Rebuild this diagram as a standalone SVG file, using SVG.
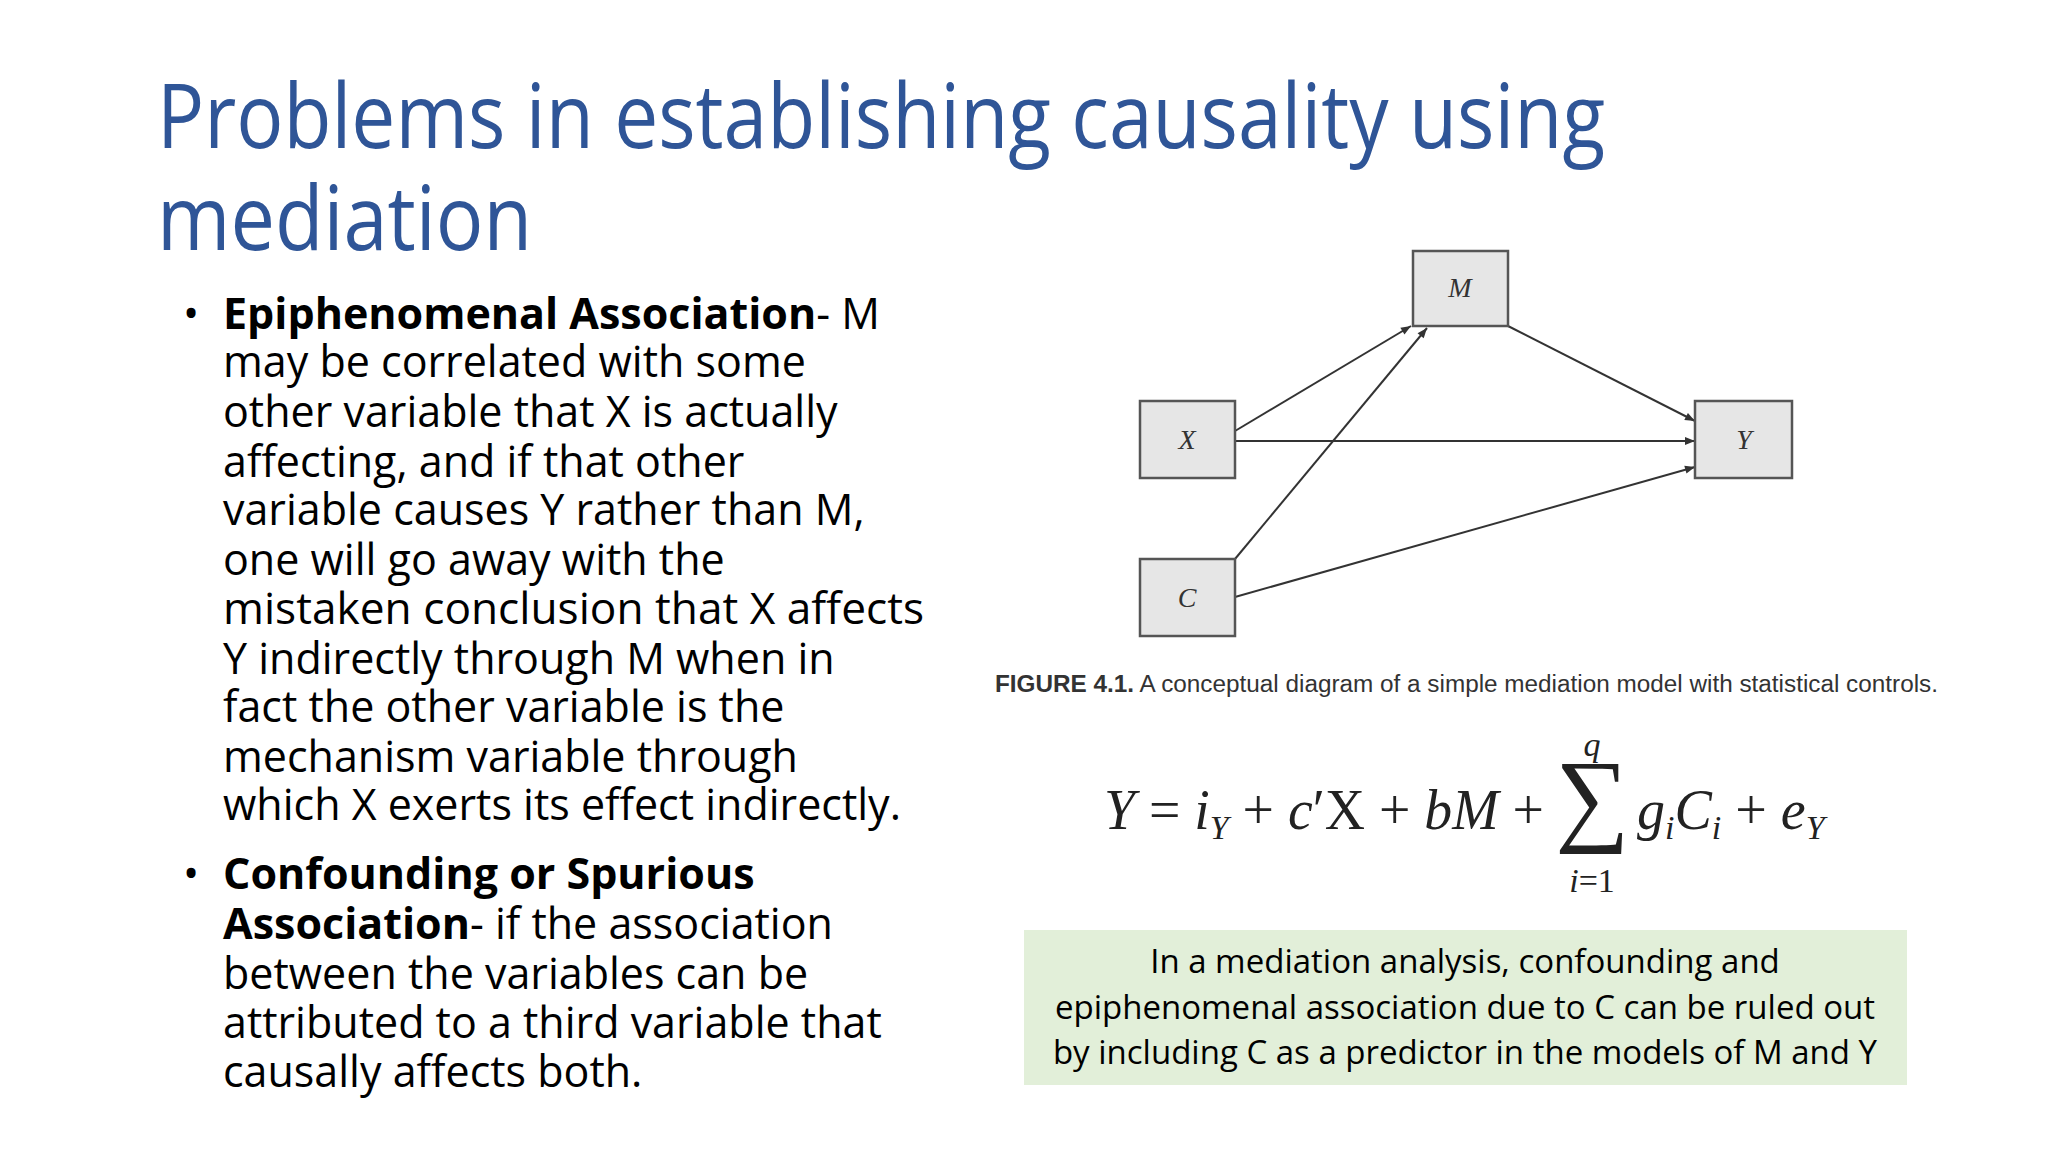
<svg xmlns="http://www.w3.org/2000/svg" width="2048" height="1152" viewBox="0 0 2048 1152">
<style>
.title{font-family:"Open Sans","Liberation Sans",sans-serif;font-size:90px;fill:#2F5597}
.body{font-family:"Open Sans","Liberation Sans",sans-serif;font-size:43px;fill:#000}
.b{font-weight:bold}
.box{fill:#e6e6e6;stroke:#555;stroke-width:2.5}
.lbl{font-family:"Liberation Serif",serif;font-style:italic;font-size:28px;fill:#333;text-anchor:middle}
.cap{font-family:"Liberation Sans",sans-serif;font-size:23px;fill:#333}
.eq{font-family:"Liberation Serif",serif;font-size:56px;fill:#222}
.note{font-family:"Open Sans","Liberation Sans",sans-serif;font-size:33px;fill:#000;text-anchor:middle}
.conn line{stroke:#333;stroke-width:2;marker-end:url(#ah)}
</style>
<defs>
<marker id="ah" viewBox="0 0 10 10" refX="10" refY="5" markerWidth="13" markerHeight="10" orient="auto" markerUnits="userSpaceOnUse"><path d="M0,1 L10,5 L0,9 z" fill="#333"/></marker>
</defs>
<rect width="2048" height="1152" fill="#fff"/>
<g id="title">
<text class="title" x="157" y="148" textLength="1448" lengthAdjust="spacingAndGlyphs">Problems in establishing causality using</text>
<text class="title" x="157" y="250" textLength="375" lengthAdjust="spacingAndGlyphs">mediation</text>
</g>
<g id="bullets" class="body">
<text x="183" y="329">•</text>
<text x="223" y="329"><tspan class="b">Epiphenomenal Association</tspan>- M</text>
<text x="223" y="377">may be correlated with some</text>
<text x="223" y="427">other variable that X is actually</text>
<text x="223" y="477">affecting, and if that other</text>
<text x="223" y="525">variable causes Y rather than M,</text>
<text x="223" y="575">one will go away with the</text>
<text x="223" y="624" textLength="701" lengthAdjust="spacingAndGlyphs">mistaken conclusion that X affects</text>
<text x="223" y="674">Y indirectly through M when in</text>
<text x="223" y="722">fact the other variable is the</text>
<text x="223" y="772">mechanism variable through</text>
<text x="223" y="820">which X exerts its effect indirectly.</text>
<text x="183" y="889">•</text>
<text x="223" y="889" class="b">Confounding or Spurious</text>
<text x="223" y="939"><tspan class="b">Association</tspan>- if the association</text>
<text x="223" y="989">between the variables can be</text>
<text x="223" y="1038">attributed to a third variable that</text>
<text x="223" y="1087">causally affects both.</text>
</g>
<g id="connectors" class="conn">
<line x1="1235" y1="431" x2="1411" y2="326"/>
<line x1="1235" y1="559" x2="1427" y2="328"/>
<line x1="1508" y1="326" x2="1695" y2="421"/>
<line x1="1235" y1="441" x2="1695" y2="441"/>
<line x1="1235" y1="597" x2="1695" y2="467"/>
</g>
<g id="node-M"><rect class="box" x="1413" y="251" width="95" height="75"/><text class="lbl" x="1460" y="297">M</text></g>
<g id="node-X"><rect class="box" x="1140" y="401" width="95" height="77"/><text class="lbl" x="1187" y="449">X</text></g>
<g id="node-Y"><rect class="box" x="1695" y="401" width="97" height="77"/><text class="lbl" x="1744" y="449">Y</text></g>
<g id="node-C"><rect class="box" x="1140" y="559" width="95" height="77"/><text class="lbl" x="1187" y="607">C</text></g>
<g id="caption"><text class="cap" x="995" y="692" textLength="943" lengthAdjust="spacingAndGlyphs"><tspan font-weight="bold">FIGURE 4.1.</tspan> A conceptual diagram of a simple mediation model with statistical controls.</text></g>
<g id="equation" class="eq">
<text x="1104" y="829" textLength="440" lengthAdjust="spacingAndGlyphs"><tspan font-style="italic">Y</tspan> = <tspan font-style="italic">i</tspan><tspan font-style="italic" font-size="34" dy="10">Y</tspan><tspan dy="-10"> + </tspan><tspan font-style="italic">c</tspan>′X + <tspan font-style="italic">bM</tspan> +</text>
<text x="1592" y="832" font-size="104" text-anchor="middle">∑</text>
<text x="1592" y="756" font-size="34" font-style="italic" text-anchor="middle">q</text>
<text x="1592" y="892" font-size="34" text-anchor="middle"><tspan font-style="italic">i</tspan>=1</text>
<text x="1637" y="829"><tspan font-style="italic">g</tspan><tspan font-style="italic" font-size="34" dy="10">i</tspan><tspan dy="-10" font-style="italic">C</tspan><tspan font-style="italic" font-size="34" dy="10">i</tspan><tspan dy="-10"> + </tspan><tspan font-style="italic">e</tspan><tspan font-style="italic" font-size="34" dy="10">Y</tspan></text>
</g>
<g id="note">
<rect x="1024" y="930" width="883" height="155" fill="#e2efd9"/>
<text class="note" x="1465" y="973">In a mediation analysis, confounding and</text>
<text class="note" x="1465" y="1019">epiphenomenal association due to C can be ruled out</text>
<text class="note" x="1465" y="1064">by including C as a predictor in the models of M and Y</text>
</g>
</svg>
